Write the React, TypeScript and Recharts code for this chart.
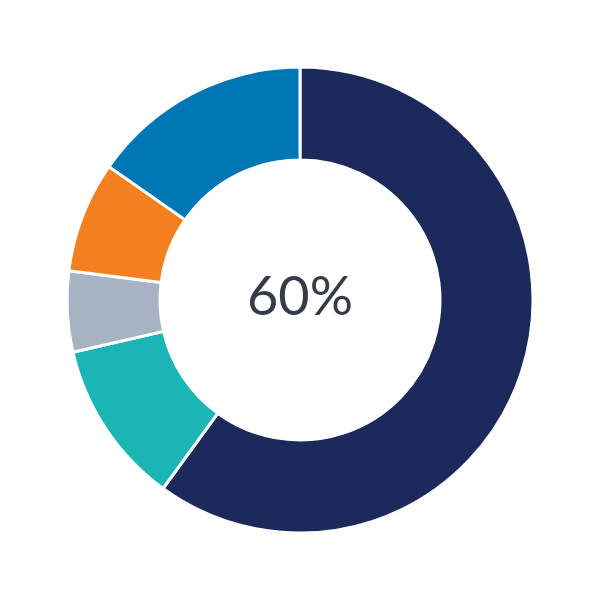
import { PieChart, Pie, Cell, Label } from "recharts";

const segments = ["Primary", "Teal", "Gray", "Orange", "Blue"];
const shares = [60, 11.4, 5.6, 7.7, 15.3];
const colors = ["#1b2a5b", "#1cb5b5", "#a7b2c2", "#f37f20", "#0077b4"];
const centerLabel = "60%";

const data = segments.map((name, i) => ({ name, value: shares[i] }));

export default function App() {
  return (
    <PieChart width={584} height={584} margin={{ top: 0, right: 0, bottom: 0, left: 0 }}>
      <Pie
        data={data}
        dataKey="value"
        nameKey="name"
        cx={292}
        cy={292}
        innerRadius={140}
        outerRadius={233}
        startAngle={90}
        endAngle={-270}
        stroke="#ffffff"
        strokeWidth={3}
        isAnimationActive={false}
      >
        {data.map((d, i) => (
          <Cell key={d.name} fill={colors[i]} />
        ))}
        <Label
          value={centerLabel}
          position="center"
          fill="#353b47"
          fontSize={54}
          fontWeight={400}
          dy={-4}
          fontFamily="Lato, 'Open Sans', sans-serif"
        />
      </Pie>
    </PieChart>
  );
}
